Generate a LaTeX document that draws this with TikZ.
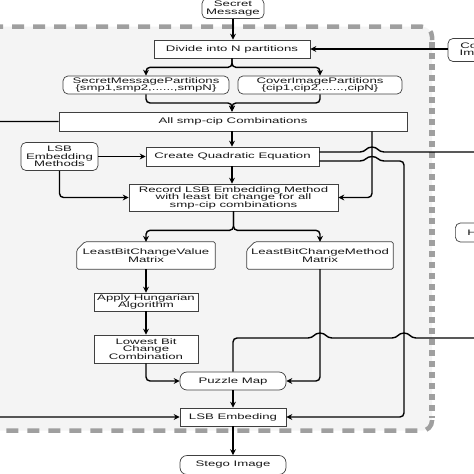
\documentclass[tikz,border=0pt]{standalone}
\usepackage{fontspec}
\setmainfont{Liberation Sans}[FakeStretch=1.65]
\usetikzlibrary{arrows.meta}
\pgfdeclarelayer{back}
\pgfdeclarelayer{mid}
\pgfsetlayers{back,mid,main}
\newcommand{\fs}{\fontsize{8}{7.5}\selectfont}
\tikzset{
  box/.style={draw=black!75, line width=0.7pt, fill=white, inner sep=0pt, align=center, font=\fs, text=black!90},
  rbox/.style={box, rounded corners=5pt},
  mat/.style={inner sep=0pt, align=center, font=\fs, text=black!90},
  matline/.style={draw=black!75, line width=0.7pt, fill=white, rounded corners=1.5pt},
  conn/.style={line width=1.4pt, black, -{Stealth[length=6pt,width=6pt,inset=2pt]}},
  plain/.style={line width=1.4pt, black},
  dashA/.style={line width=4.5pt, gray!75, dash pattern=on 12pt off 9pt},
  dashB/.style={line width=5.5pt, gray!75, dash pattern=on 6pt off 5pt},
}
\begin{document}
\begin{tikzpicture}[x=1pt,y=-1pt]
\useasboundingbox (0,0) rectangle (474,474);
\clip (0,0) rectangle (474,474);
% region
\begin{pgfonlayer}{back}
\fill[gray!9, rounded corners=10pt] (-30,26.7) rectangle (432,430.7);
\draw[dashA, rounded corners=10pt] (-30,26.7) -- (432,26.7) -- (432,40);
\draw[dashB] (432,42) -- (432,418);
\draw[dashA, rounded corners=10pt] (432,420) -- (432,430.7) -- (-30,430.7);
\end{pgfonlayer}
% nodes
\node[rbox, minimum width=62pt, minimum height=20pt] (secret) at (233,8.5) {Secret\\Message};
\node[box, minimum width=156pt, minimum height=18pt] (div) at (232,49) {Divide into N partitions};
\node[rbox, minimum width=60pt, minimum height=23pt] (cover) at (478,50) {Cover\\Image};
\node[rbox, minimum width=166pt, minimum height=18pt] (smp) at (146,85) {SecretMessagePartitions\\\{smp1,smp2,......,smpN\}};
\node[rbox, minimum width=164pt, minimum height=18pt] (cip) at (320,85) {CoverImagePartitions\\\{cip1,cip2,......,cipN\}};
\node[box, minimum width=348pt, minimum height=19pt] (allc) at (233,121.5) {All smp-cip Combinations};
\node[rbox, minimum width=77pt, minimum height=28pt] (lsbm) at (59.5,156.5) {LSB\\Embedding\\Methods};
\node[box, minimum width=173pt, minimum height=19pt] (quad) at (232.5,156.5) {Create Quadratic Equation};
\node[box, minimum width=209pt, minimum height=27pt] (rec) at (233.5,197.5) {Record LSB Embedding Method\\with least bit change for all\\smp-cip combinations};
\node[mat, minimum width=138pt, minimum height=27pt] (vm) at (146,255.5) {LeastBitChangeValue\\Matrix};
\node[mat, minimum width=146pt, minimum height=27pt] (mm) at (320,255.5) {LeastBitChangeMethod\\Matrix};
\begin{pgfonlayer}{mid}
\draw[matline] ([xshift=8pt]vm.north west) -- (vm.north east) -- (vm.south east) -- (vm.south west) -- ([yshift=-8pt]vm.north west) -- cycle;
\draw[matline] ([xshift=8pt]mm.north west) -- (mm.north east) -- (mm.south east) -- (mm.south west) -- ([yshift=-8pt]mm.north west) -- cycle;
\end{pgfonlayer}
\node[box, minimum width=104pt, minimum height=18pt] (hung) at (146,302) {Apply Hungarian\\Algorithm};
\node[box, minimum width=104pt, minimum height=28pt] (low) at (146,349) {Lowest Bit\\Change\\Combination};
\node[rbox, rounded corners=7pt, minimum width=106pt, minimum height=18pt] (puz) at (233,381) {Puzzle Map};
\node[box, minimum width=106pt, minimum height=18pt] (emb) at (233,417) {LSB Embeding};
\node[rbox, rounded corners=7pt, minimum width=106pt, minimum height=19pt] (stego) at (233,465) {Stego Image};
\node[rbox, anchor=west, minimum height=19pt, text width=50pt, inner xsep=12pt, align=left] (hkey) at (455,232.5) {H};
% helper coordinates
\coordinate (c372) at (372,0);
\coordinate (m1) at (232,103);
% connectors
\draw[conn] (secret.south) -- (secret.south |- div.north);
\draw[conn] (div.east -| cover.west) -- (div.east);
\draw[conn, rounded corners=4pt] (div.south) -- ++(0,9) -| (smp.north);
\draw[conn, rounded corners=4pt] (div.south) -- ++(0,9) -| (cip.north);
\draw[conn, rounded corners=4pt] (smp.south) |- (m1) -- (m1 |- allc.north);
\draw[conn, rounded corners=4pt] (cip.south) |- (m1) -- (m1 |- allc.north);
\draw[conn] (m1 |- allc.south) -- (m1 |- quad.north);
\draw[conn, rounded corners=4pt] (allc.south -| c372) |- (rec.east);
\draw[conn, rounded corners=4pt] (allc.west) -- ++(-90,0) |- (emb.west);
\draw[conn] (lsbm.east) -- (quad.west);
\draw[conn, rounded corners=4pt] (lsbm.south) |- (rec.west);
\draw[conn] (m1 |- quad.south) -- (m1 |- rec.north);
% lines from quadratic equation with hops
\draw[plain] ([yshift=4.5pt]quad.east) -- (360,152) .. controls (366,152) and (366,147) .. (372,147) .. controls (378,147) and (378,152) .. (384,152) -- (500,152);
\draw[conn] ([yshift=-4.5pt]quad.east) -- (360,161) .. controls (366,161) and (366,156.5) .. (372,156.5) .. controls (378,156.5) and (378,161) .. (384,161) [rounded corners=4pt] -- (404,161) -- (404,417) -- (emb.east);
% split below record
\draw[conn, rounded corners=4pt] (rec.south) -- ++(0,19) -| (vm.north);
\draw[conn, rounded corners=4pt] (rec.south) -- ++(0,19) -| (mm.north);
\draw[conn] (vm.south) -- (hung.north);
\draw[conn] (hung.south) -- (low.north);
\draw[conn, rounded corners=4pt] (low.south) |- (puz.west);
\draw[conn, rounded corners=4pt] (mm.south) |- (puz.east);
% line from right into puzzle map with hops
\draw[plain] (500,338) -- (416,338) .. controls (410,338) and (410,333) .. (404,333) .. controls (398,333) and (398,338) .. (392,338) -- (332,338) .. controls (326,338) and (326,333) .. (320,333) .. controls (314,333) and (314,338) .. (308,338) [rounded corners=4pt] -- (puz.north |- 0,338) -- (puz.north);
\draw[conn] (puz.south) -- (emb.north);
\draw[conn] (emb.south) -- (stego.north);
\end{tikzpicture}
\end{document}
